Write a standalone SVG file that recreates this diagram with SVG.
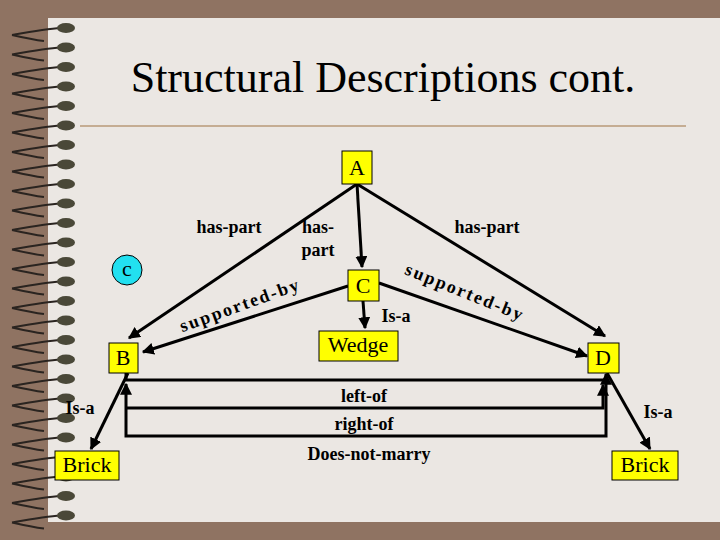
<svg xmlns="http://www.w3.org/2000/svg" width="720" height="540" viewBox="0 0 720 540">
<defs>
<style>
.box{fill:#ffff00;stroke:#000;stroke-width:1}
.nt{font-family:'Liberation Serif','Times New Roman',serif;font-size:22px;fill:#000;text-anchor:middle}
.lb{font-family:'Liberation Serif','Times New Roman',serif;font-size:18px;font-weight:bold;fill:#000;text-anchor:middle}
.e{stroke:#000;stroke-width:3;fill:none}
.ring{fill:#4a4838}
.wire{stroke:#2a2420;stroke-width:2;fill:none}
</style>
<marker id="ar" viewBox="0 0 10 10" refX="9" refY="5" markerWidth="4" markerHeight="4" orient="auto"><path d="M0,0L10,5L0,10z" fill="#000"/></marker>
</defs>
<rect width="720" height="540" fill="#8f7362"/>
<rect x="48" y="18" width="672" height="504" fill="#ebe7e3"/>
<g id="spiral">
<g id="r"><path class="wire" d="M64,28 C50,28 30,32 12,35 M12,35 C25,38 35,40 44,41"/><ellipse class="ring" cx="66" cy="28" rx="9" ry="5"/></g>
<use href="#r" y="19.5"/><use href="#r" y="39"/><use href="#r" y="58.5"/><use href="#r" y="78"/><use href="#r" y="97.5"/><use href="#r" y="117"/><use href="#r" y="136.5"/><use href="#r" y="156"/><use href="#r" y="175.5"/><use href="#r" y="195"/><use href="#r" y="214.5"/><use href="#r" y="234"/><use href="#r" y="253.5"/><use href="#r" y="273"/><use href="#r" y="292.5"/><use href="#r" y="312"/><use href="#r" y="331.5"/><use href="#r" y="351"/><use href="#r" y="370.5"/><use href="#r" y="390"/><use href="#r" y="409.5"/><use href="#r" y="429"/><use href="#r" y="448.5"/><use href="#r" y="468"/><use href="#r" y="487.5"/>
</g>
<text x="383" y="92" font-family="Liberation Serif, serif" font-size="44" text-anchor="middle">Structural Descriptions cont.</text>
<line x1="80" y1="126" x2="686" y2="126" stroke="#b89a78" stroke-width="1.5"/>
<g id="connectors">
<line class="e" x1="357" y1="184" x2="129" y2="338" marker-end="url(#ar)"/>
<line class="e" x1="357" y1="184" x2="605" y2="336" marker-end="url(#ar)"/>
<line class="e" x1="357" y1="184" x2="362" y2="267" marker-end="url(#ar)"/>
<line class="e" x1="348" y1="286" x2="143" y2="352" marker-end="url(#ar)"/>
<line class="e" x1="379" y1="283" x2="587" y2="356" marker-end="url(#ar)"/>
<line class="e" x1="363" y1="301" x2="365" y2="328" marker-end="url(#ar)"/>
<line class="e" x1="128" y1="373" x2="91" y2="449" marker-end="url(#ar)"/>
<line class="e" x1="607" y1="373" x2="650" y2="449" marker-end="url(#ar)"/>
<polyline class="e" points="126,373 126,380 606,380 606,374" marker-end="url(#ar)"/>
<polyline class="e" points="126,408 603,408 603,385" marker-end="url(#ar)"/>
<polyline class="e" points="606,380 606,436 126,436 126,384" marker-end="url(#ar)"/>
<text class="lb" x="229" y="233">has-part</text>
<text class="lb" x="318" y="233" text-anchor="start">has-</text>
<text class="lb" x="318" y="256" text-anchor="start">part</text>
<text class="lb" x="487" y="233">has-part</text>
<text class="lb" x="240" y="311" letter-spacing="2" transform="rotate(-20 240 305)">supported-by</text>
<text class="lb" x="465" y="298" letter-spacing="2" transform="rotate(22 465 292)">supported-by</text>
<text class="lb" x="396" y="322">Is-a</text>
<text class="lb" x="80" y="414">Is-a</text>
<text class="lb" x="658" y="418">Is-a</text>
<text class="lb" x="364" y="402">left-of</text>
<text class="lb" x="364" y="430">right-of</text>
<text class="lb" x="369" y="460">Does-not-marry</text>
</g>
<g id="A"><rect class="box" x="342" y="151" width="30" height="33"/><text class="nt" x="357" y="175">A</text></g>
<g id="C"><rect class="box" x="348" y="270" width="31" height="31"/><text class="nt" x="363" y="293">C</text></g>
<g id="c"><circle cx="127" cy="270" r="15" fill="#22e0f0" stroke="#000" stroke-width="1"/><text class="nt" x="127" y="276" font-size="18">c</text></g>
<g id="Wedge"><rect class="box" x="319" y="331" width="79" height="30"/><text class="nt" x="358" y="352">Wedge</text></g>
<g id="B"><rect class="box" x="109" y="343" width="29" height="30"/><text class="nt" x="123" y="365">B</text></g>
<g id="D"><rect class="box" x="588" y="343" width="31" height="30"/><text class="nt" x="603" y="365">D</text></g>
<g id="Brick1"><rect class="box" x="55" y="451" width="64" height="29"/><text class="nt" x="87" y="472">Brick</text></g>
<g id="Brick2"><rect class="box" x="612" y="451" width="66" height="29"/><text class="nt" x="645" y="472">Brick</text></g>
</svg>
